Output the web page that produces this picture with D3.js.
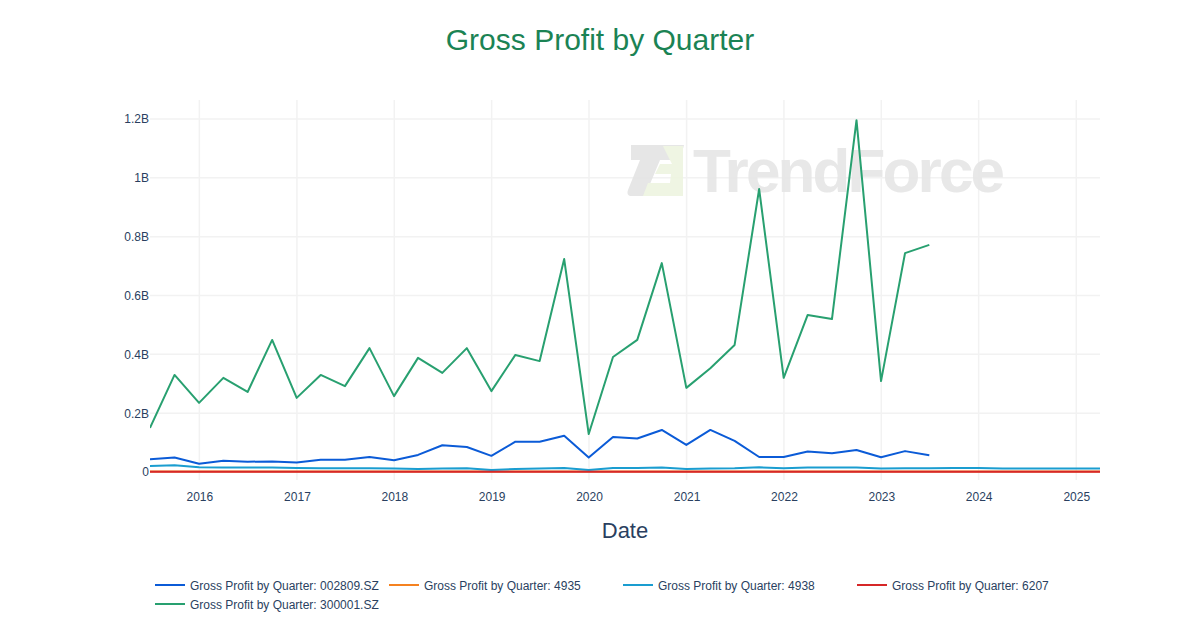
<!DOCTYPE html>
<html lang="en">
<head>
<meta charset="utf-8">
<script src="https://d3js.org/d3.v7.min.js"></script>
<style>
  body { margin: 0; background: #fff; }
  text { font-family: "Liberation Sans", Arial, sans-serif; }
</style>
</head>
<body>
<script>
  // quarter ends, 2015-06-30 .. 2025-03-31
  var quarters = [];
  for (var y = 2015; y <= 2025; y++) {
    ["03-31", "06-30", "09-30", "12-31"].forEach(function(q) {
      var s = y + "-" + q;
      if (s >= "2015-06-30" && s <= "2025-03-31") quarters.push(s);
    });
  }

  // values in billions
  var gp002809 = [0.043, 0.049, 0.028, 0.038, 0.035, 0.036, 0.032, 0.042, 0.042, 0.051,
                  0.040, 0.058, 0.091, 0.085, 0.055, 0.103, 0.103, 0.123, 0.049, 0.119,
                  0.114, 0.143, 0.092, 0.143, 0.106, 0.051, 0.051, 0.070, 0.064, 0.075,
                  0.050, 0.071, 0.057];
  var gp4935 = [0.002, 0.002, 0.002, 0.002, 0.002, 0.002, 0.002, 0.002, 0.002, 0.002,
                0.002, 0.002, 0.002, 0.002, 0.002, 0.002, 0.002, 0.002, 0.002, 0.002,
                0.002, 0.002, 0.002, 0.002, 0.002, 0.002, 0.002, 0.002, 0.002, 0.002,
                0.002, 0.002, 0.002, 0.002, 0.002, 0.002, 0.002, 0.002, 0.002, 0.002];
  var gp4938 = [0.020, 0.023, 0.016, 0.015, 0.015, 0.015, 0.014, 0.013, 0.013, 0.013,
                0.012, 0.010, 0.012, 0.013, 0.007, 0.010, 0.012, 0.014, 0.007, 0.014,
                0.014, 0.015, 0.010, 0.012, 0.013, 0.016, 0.013, 0.015, 0.015, 0.015,
                0.012, 0.013, 0.013, 0.014, 0.014, 0.012, 0.012, 0.012, 0.012, 0.012,
                0.010];
  var gp6207 = [0.001, 0.001, 0.001, 0.001, 0.001, 0.001, 0.001, 0.001, 0.001, 0.001,
                0.001, 0.001, 0.001, 0.001, 0.001, 0.001, 0.001, 0.001, 0.001, 0.001,
                0.001, 0.001, 0.001, 0.001, 0.001, 0.001, 0.001, 0.001, 0.001, 0.001,
                0.001, 0.001, 0.001, 0.001, 0.001, 0.001, 0.001, 0.001, 0.001, 0.001,
                0.001];
  var gp300001 = [0.150, 0.330, 0.235, 0.320, 0.272, 0.449, 0.252, 0.330, 0.292, 0.421,
                  0.258, 0.388, 0.337, 0.421, 0.275, 0.398, 0.377, 0.724, 0.129, 0.391,
                  0.449, 0.710, 0.286, 0.353, 0.432, 0.962, 0.320, 0.534, 0.520, 1.196,
                  0.309, 0.744, 0.772];

  var seriesNames = ["002809.SZ", "4935", "4938", "6207", "300001.SZ"];
  var seriesValues = [gp002809, gp4935, gp4938, gp6207, gp300001];
  var seriesColors = ["#0b5bd7", "#f58220", "#1a9dd0", "#d62728", "#28a070"];
  var yTicks = [0, 0.2, 0.4, 0.6, 0.8, 1.0, 1.2];
  var xTicks = [2016, 2017, 2018, 2019, 2020, 2021, 2022, 2023, 2024, 2025];

  var width = 1200, height = 630;
  var margin = {left: 150, right: 100, top: 100, bottom: 150};
  var parse = d3.timeParse("%Y-%m-%d");

  var svg = d3.select("body").append("svg")
    .attr("width", width).attr("height", height);

  var x = d3.scaleTime()
    .domain([parse("2015-06-30"), parse("2025-03-31")])
    .range([margin.left, width - margin.right]);
  var y = d3.scaleLinear()
    .domain([-0.0, 1.2])
    .range([472, 119]);

  // grid
  svg.append("g").selectAll("line").data(xTicks).join("line")
    .attr("x1", function(d) { return x(new Date(d, 0, 1)); })
    .attr("x2", function(d) { return x(new Date(d, 0, 1)); })
    .attr("y1", margin.top).attr("y2", 480)
    .attr("stroke", "#f2f2f2").attr("stroke-width", 1.5);
  svg.append("g").selectAll("line").data(yTicks.filter(function(d) { return d > 0; })).join("line")
    .attr("x1", margin.left).attr("x2", width - margin.right)
    .attr("y1", function(d) { return y(d); }).attr("y2", function(d) { return y(d); })
    .attr("stroke", "#f2f2f2").attr("stroke-width", 1.5);

  // watermark
  var wm = svg.append("g").attr("opacity", 0.9);
  wm.append("path")
    .attr("d", "M631,145 L684,145 L680,160 L660,160 L645,196 L632,196 Q626,196 628,190 L640,160 L631,160 Z")
    .attr("fill", "#e4e4e4");
  wm.append("path")
    .attr("d", "M663,146 L683,146 L683,196 L643,196 L648,183 L670,183 L671,174 L655,174 L660,164 L672,164 Z")
    .attr("fill", "#eef5e0");
  wm.append("text")
    .attr("x", 693).attr("y", 192)
    .attr("font-size", 62).attr("font-weight", "bold")
    .attr("fill", "#e6e6e6")
    .attr("textLength", 312)
    .text("TrendForce");

  // axes labels
  var xAxis = d3.axisBottom(x)
    .tickValues(xTicks.map(function(d) { return new Date(d, 0, 1); }))
    .tickFormat(d3.timeFormat("%Y")).tickSize(0).tickPadding(10);
  var gx = svg.append("g").attr("transform", "translate(0,482)").call(xAxis);
  gx.select(".domain").remove();
  gx.selectAll("text").attr("font-size", 12).attr("fill", "#2a3f5f")
    .style("font-family", "'Liberation Sans', Arial, sans-serif");

  var yAxis = d3.axisLeft(y).tickValues(yTicks)
    .tickFormat(function(d) { return d === 0 ? "0" : d3.format("~g")(+d.toFixed(1)) + "B"; })
    .tickSize(0).tickPadding(1);
  var gy = svg.append("g").attr("transform", "translate(150,0)").call(yAxis);
  gy.select(".domain").remove();
  gy.selectAll("text").attr("font-size", 12).attr("fill", "#2a3f5f")
    .style("font-family", "'Liberation Sans', Arial, sans-serif");

  // lines
  var line = d3.line()
    .x(function(d) { return x(d.date); })
    .y(function(d) { return y(d.value); });
  var clip = svg.append("clipPath").attr("id", "plot")
    .append("rect").attr("x", margin.left).attr("y", margin.top - 5)
    .attr("width", width - margin.left - margin.right).attr("height", 390);
  var plot = svg.append("g").attr("clip-path", "url(#plot)");
  seriesValues.forEach(function(vals, i) {
    var pts = vals.map(function(v, j) { return {date: parse(quarters[j]), value: v}; });
    plot.append("path").datum(pts)
      .attr("d", line)
      .attr("fill", "none")
      .attr("stroke", seriesColors[i])
      .attr("stroke-width", 2)
      .attr("stroke-linejoin", "round");
  });

  // titles
  svg.append("text").attr("x", 600).attr("y", 50)
    .attr("text-anchor", "middle").attr("font-size", 30)
    .attr("fill", "#1b8354").text("Gross Profit by Quarter");
  svg.append("text").attr("x", 625).attr("y", 538)
    .attr("text-anchor", "middle").attr("font-size", 22)
    .attr("fill", "#2a3f5f").text("Date");

  // legend
  var legend = svg.append("g");
  seriesNames.forEach(function(name, i) {
    var lx = 155 + (i % 4) * 234, ly = 585 + Math.floor(i / 4) * 19;
    legend.append("line").attr("x1", lx).attr("x2", lx + 30)
      .attr("y1", ly).attr("y2", ly)
      .attr("stroke", seriesColors[i]).attr("stroke-width", 2);
    legend.append("text").attr("x", lx + 35).attr("y", ly + 4.5)
      .attr("font-size", 12).attr("fill", "#2a3f5f")
      .text("Gross Profit by Quarter: " + name);
  });
</script>
</body>
</html>
